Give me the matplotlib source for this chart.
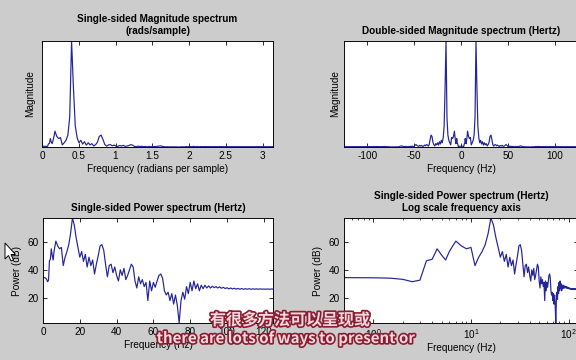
import numpy as np
import matplotlib
matplotlib.use("Agg")
import matplotlib.pyplot as plt
import matplotlib.patheffects as pe
from matplotlib.patches import Polygon

plt.rcParams['font.family'] = ['Liberation Sans', 'DejaVu Sans']
plt.rcParams['axes.unicode_minus'] = False

# frequency grid (Hz), finer at the low end where the log plot shows detail
freq_hz = np.concatenate([np.arange(0, 7, 0.5), np.arange(7, 126, 1.0)])

# single-sided power spectrum in dB
power_db = [
    34.6, 34.4, 34.3, 34.0, 33.2, 31.5, 32.6, 46.5, 47.5, 55.0, 50.5, 47.0, 53.0, 57.0,
    60.5, 57.0, 55.0, 56.0, 43.0, 49.0, 53.0, 58.0, 66.0, 77.0, 72.0, 63.0, 56.0, 49.0,
    53.0, 46.0, 51.0, 42.0, 49.0, 43.0, 47.0, 37.0, 44.0, 50.0, 57.0, 58.0, 54.0, 44.0,
    35.0, 43.0, 44.0, 38.0, 42.0, 36.0, 32.0, 40.0, 36.0, 41.0, 33.0, 36.0, 40.0, 44.0,
    42.0, 32.0, 27.0, 35.0, 30.0, 33.0, 28.0, 31.0, 18.0, 32.0, 25.0, 31.0, 27.5, 32.0,
    36.0, 37.0, 34.0, 25.0, 22.0, 24.0, 18.0, 23.0, 15.5, 22.0, 14.5, 2.0, 18.0, 24.0,
    19.0, 28.0, 23.0, 31.0, 25.0, 32.0, 26.5, 30.0, 25.0, 29.0, 26.5, 29.0, 27.0, 28.5,
    27.0, 28.3, 27.2, 28.0, 27.0, 27.8, 26.8, 27.5, 26.6, 27.2, 26.4, 27.0, 26.3, 26.8,
    26.2, 26.7, 26.1, 26.6, 26.1, 26.5, 26.1, 26.5, 26.1, 26.4, 26.1, 26.4, 26.1, 26.4,
    26.1, 26.3, 26.1, 26.3, 26.1, 26.3, 26.2,
]

fs = 250.0
rad_ticks = [0, 0.5, 1, 1.5, 2, 2.5, 3]
rad_labels = ['0', '0.5', '1', '1.5', '2', '2.5', '3']
hz_ticks_ds = [-100, -50, 0, 50, 100]
hz_ticks_ss = [0, 20, 40, 60, 80, 100, 120]
db_ticks = [20, 40, 60]

subtitle_cn = '有很多方法可以呈现或'
subtitle_en = 'there are lots of ways to present or'

power_db = np.array(power_db)
mag = 10 ** (power_db / 20.0)
rad = freq_hz / (fs / 2) * np.pi

# double-sided: mirror the single-sided half
f_ds = np.concatenate([-freq_hz[:0:-1], freq_hz])
mag_ds = np.concatenate([mag[:0:-1], mag]) / 2

W, H = 576, 360
LINE = '#25259a'
BG = '#cccccc'


def px_axes(fig, left, top, right, bottom):
    return fig.add_axes([left / W, 1 - bottom / H, (right - left) / W, (bottom - top) / H])


def style(ax):
    ax.set_facecolor('white')
    ax.tick_params(direction='in', top=True, right=True, length=3, width=0.6,
                   labelsize=7.5, pad=3)
    ax.tick_params(which='minor', direction='in', top=True, right=True, length=1.8, width=0.5)
    for s in ax.spines.values():
        s.set_linewidth(0.7)


fig = plt.figure(figsize=(W / 96, H / 96), dpi=96, facecolor=BG)

# top left
ax1 = px_axes(fig, 42, 41, 273, 147)
ax1.plot(rad, mag, color=LINE, lw=0.9)
ax1.set_xlim(0, np.pi)
ax1.set_ylim(0, mag.max())
ax1.set_xticks(rad_ticks)
ax1.set_xticklabels(rad_labels)
ax1.set_yticks([])
ax1.set_title('Single-sided Magnitude spectrum\n(rads/sample)', fontsize=7.5,
              fontweight='bold', pad=5, linespacing=1.35)
ax1.set_xlabel('Frequency (radians per sample)', fontsize=7.5, labelpad=2)
ax1.set_ylabel('Magnitude', fontsize=7.5, labelpad=5)
style(ax1)

# top right
ax2 = px_axes(fig, 344, 41, 578, 147)
ax2.plot(f_ds, mag_ds, color=LINE, lw=0.9)
ax2.set_xlim(-fs / 2, fs / 2)
ax2.set_ylim(0, mag_ds.max())
ax2.set_xticks(hz_ticks_ds)
ax2.set_yticks([])
ax2.set_title('Double-sided Magnitude spectrum (Hertz)', fontsize=7.5,
              fontweight='bold', pad=5)
ax2.set_xlabel('Frequency (Hz)', fontsize=7.5, labelpad=2)
ax2.set_ylabel('Magnitude', fontsize=7.5, labelpad=3)
style(ax2)

# bottom left
ax3 = px_axes(fig, 43, 218, 273, 323)
ax3.plot(freq_hz, power_db, color=LINE, lw=0.9)
ax3.set_xlim(0, fs / 2)
ax3.set_ylim(power_db.min(), power_db.max())
ax3.set_xticks(hz_ticks_ss)
ax3.set_yticks(db_ticks)
ax3.set_title('Single-sided Power spectrum (Hertz)', fontsize=7.5,
              fontweight='bold', pad=5)
ax3.set_xlabel('Frequency (Hz)', fontsize=7.5, labelpad=2)
ax3.set_ylabel('Power (dB)', fontsize=7.5, labelpad=4)
style(ax3)

# bottom right
ax4 = px_axes(fig, 344, 218, 578, 323)
ax4.semilogx(freq_hz[1:], power_db[1:], color=LINE, lw=0.9)
ax4.set_xlim(freq_hz[1], fs / 2)
ax4.set_ylim(power_db.min(), power_db.max())
ax4.set_yticks(db_ticks)
ax4.set_title('Single-sided Power spectrum (Hertz)\nLog scale frequency axis', fontsize=7.5,
              fontweight='bold', pad=5, linespacing=1.35)
ax4.set_xlabel('Frequency (Hz)', fontsize=7.5, labelpad=2)
ax4.set_ylabel('Power (dB)', fontsize=7.5, labelpad=4)
style(ax4)

# mouse pointer left of the lower plots
ptr = np.array([(5, 243), (5, 259), (8.5, 255.5), (11, 261), (13.5, 260), (11, 254.5), (15.5, 254.5)])
fig.patches.append(Polygon(np.column_stack([ptr[:, 0] / W, 1 - ptr[:, 1] / H]), closed=True,
                           facecolor='white', edgecolor='black', lw=0.7,
                           transform=fig.transFigure, figure=fig))

# video subtitles
fx = [pe.withStroke(linewidth=2.5, foreground='#8c1c30')]
fig.text(290 / W, 1 - 320 / H, subtitle_cn, ha='center', va='center', fontsize=12,
         color='#f3d9de', fontweight='bold', family=['Noto Sans CJK SC', 'DejaVu Sans'],
         path_effects=fx)
fig.text(286 / W, 1 - 338 / H, subtitle_en, ha='center', va='center', fontsize=11.3,
         color='#f3d9de', fontweight='bold', family=['Noto Sans CJK SC', 'DejaVu Sans'],
         path_effects=fx)

fig.savefig('out.png', dpi=96, facecolor=BG)
